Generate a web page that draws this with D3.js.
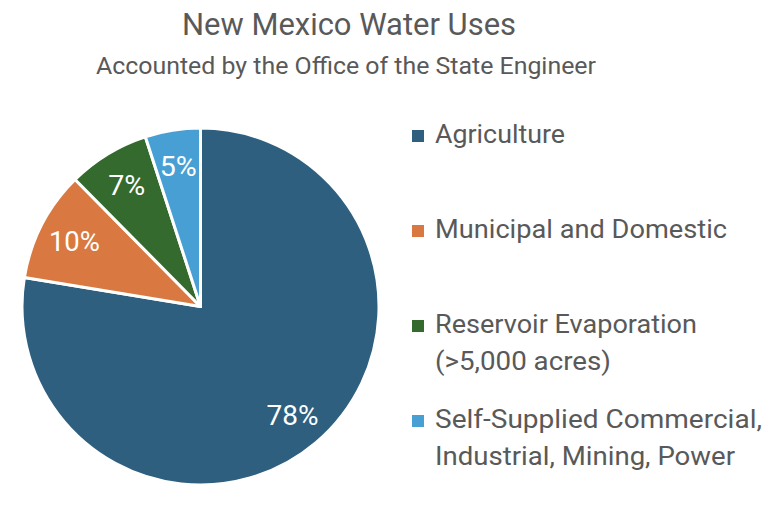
<!DOCTYPE html>
<html lang="en">
<head>
<meta charset="UTF-8">
<title>New Mexico Water Uses</title>
<script src="https://cdn.jsdelivr.net/npm/d3@7/dist/d3.min.js"></script>
<style>
  body { margin: 0; background: #fff; }
  text { font-family: Roboto, "Open Sans", sans-serif; }
</style>
</head>
<body>
<div id="container"></div>
<script>
// data
const categories = ["Agriculture", "Municipal and Domestic", "Reservoir Evaporation (>5,000 acres)", "Self-Supplied Commercial, Industrial, Mining, Power"];
const values = [77.6, 10.0, 7.4, 5.0];
const labels = ["78%", "10%", "7%", "5%"];
const legendLines = [["Agriculture"], ["Municipal and Domestic"], ["Reservoir Evaporation", "(>5,000 acres)"], ["Self-Supplied Commercial,", "Industrial, Mining, Power"]];
const colors = ["#2e5f7f", "#d97941", "#346a2e", "#489fd4"];

const W = 768, H = 506;
const svg = d3.select("#container").append("svg")
    .attr("width", W).attr("height", H);

// the reference font is a bit narrower than roboto, so pin the widths
function fit(sel, w) {
    sel.attr("textLength", w).attr("lengthAdjust", "spacingAndGlyphs");
}

svg.append("text")
    .attr("x", 349).attr("y", 35)
    .attr("text-anchor", "middle")
    .attr("font-size", 31)
    .attr("fill", "#595959")
    .text("New Mexico Water Uses")
    .call(fit, 334);

svg.append("text")
    .attr("x", 346).attr("y", 73.5)
    .attr("text-anchor", "middle")
    .attr("font-size", 24)
    .attr("fill", "#595959")
    .text("Accounted by the Office of the State Engineer")
    .call(fit, 500);

const cx = 200.5, cy = 306.5, r = 178.5;
const data = categories.map((c, i) => ({ name: c, value: values[i], label: labels[i], color: colors[i] }));

const pie = d3.pie().sort(null).value(d => d.value);
const arc = d3.arc().innerRadius(0).outerRadius(r);
const labelArc = d3.arc().innerRadius(142).outerRadius(142);

const g = svg.append("g").attr("transform", "translate(" + cx + "," + cy + ")");
const arcs = pie(data);

g.selectAll("path")
    .data(arcs)
    .enter().append("path")
    .attr("d", arc)
    .attr("fill", d => d.data.color)
    .attr("stroke", "#fff")
    .attr("stroke-width", 3)
    .attr("stroke-linejoin", "round");

const lblW = [52, 51, 37, 37];
g.selectAll("text.lbl")
    .data(arcs)
    .enter().append("text")
    .attr("class", "lbl")
    .attr("transform", d => "translate(" + labelArc.centroid(d) + ")")
    .attr("text-anchor", "middle")
    .attr("dy", "0.36em")
    .attr("font-size", 27)
    .attr("fill", "#fff")
    .attr("textLength", (d, i) => lblW[i])
    .attr("lengthAdjust", "spacingAndGlyphs")
    .text(d => d.data.label);

// legend
const legendY = [143, 238, 333, 428];
const legendW = [[130], [292], [262, 176], [327, 300]];
const items = svg.append("g").selectAll("g")
    .data(data)
    .enter().append("g")
    .attr("transform", (d, i) => "translate(412," + legendY[i] + ")");

items.append("rect")
    .attr("x", 0).attr("y", -13)
    .attr("width", 12).attr("height", 12)
    .attr("fill", d => d.color);

items.each(function (d, i) {
    legendLines[i].forEach((line, j) => {
        d3.select(this).append("text")
            .attr("x", 23)
            .attr("y", j * 37)
            .attr("font-size", 25)
            .attr("fill", "#595959")
            .text(line)
            .call(fit, legendW[i][j]);
    });
});
</script>
</body>
</html>
